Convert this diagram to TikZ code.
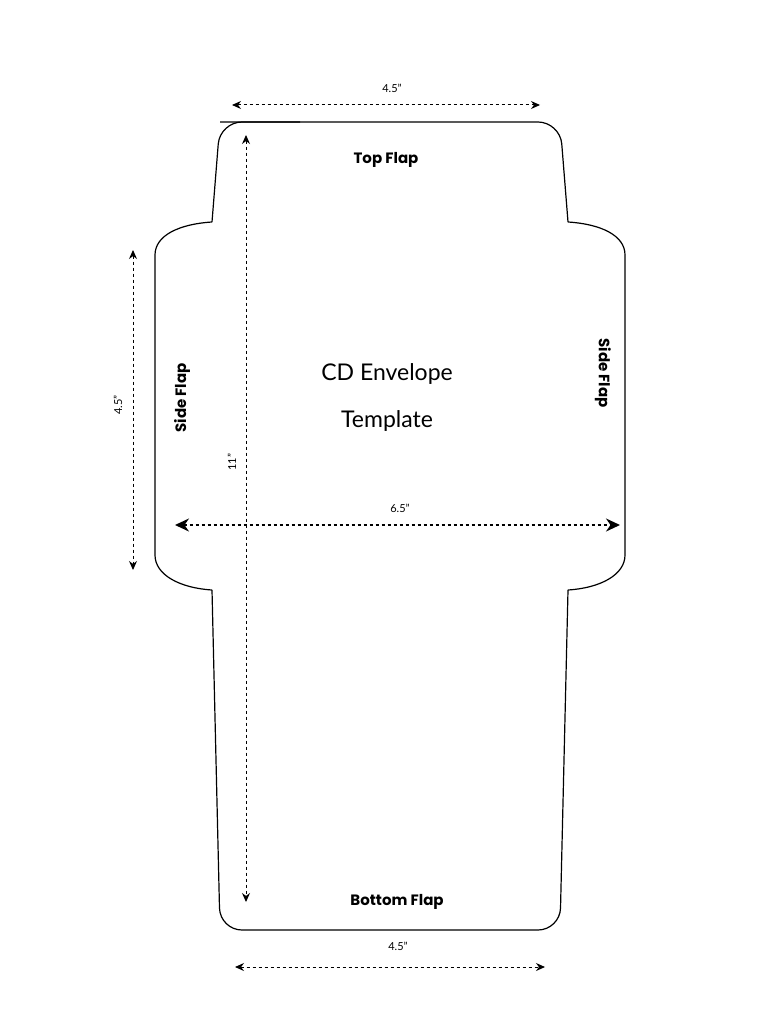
\documentclass[tikz,border=0pt]{standalone}
\usepackage{fontspec}
\setmainfont{Lato}
\newfontfamily\flapfont{Poppins}
\usetikzlibrary{arrows.meta}
\begin{document}
\begin{tikzpicture}[x=1pt,y=-1pt,
  dim/.style={dashed,line width=1pt,{Stealth[length=9pt,width=8pt]}-{Stealth[length=9pt,width=8pt]}},
  dimlab/.style={font=\fontsize{11}{13}\selectfont},
  flap/.style={font=\flapfont\bfseries\fontsize{15}{17}\selectfont}]
\useasboundingbox (0,0) rectangle (768,1024);
\draw[line width=1.2pt,rounded corners=22pt]
  (220,122) -- (560,122) -- (568,222);
\draw[line width=1.2pt]
  (568,222) .. controls (600,224) and (625,235) .. (625,255) -- (625,555)
  .. controls (625,575) and (600,588) .. (568,590);
\draw[line width=1.2pt,rounded corners=22pt]
  (568,590) -- (560,930) -- (220,930) -- (212,590);
\draw[line width=1.2pt]
  (212,590) .. controls (180,588) and (155,575) .. (155,555) -- (155,255)
  .. controls (155,235) and (180,224) .. (212,222);
\draw[line width=1.2pt,rounded corners=22pt]
  (212,222) -- (220,122) -- (300,122);
\coordinate (t1) at (232,105); \coordinate (t2) at (540,105);
\coordinate (v1) at (246,135); \coordinate (v2) at (246,902);
\coordinate (l1) at (133,250); \coordinate (l2) at (133,570);
\coordinate (m1) at (175,525); \coordinate (m2) at (620,525);
\coordinate (b1) at (235,967); \coordinate (b2) at (545,967);
\draw[dim] (t1) -- (t2);
\draw[dim] (v1) -- (v2);
\draw[dim] (l1) -- (l2);
\draw[dim,line width=2pt,{Stealth[length=14pt,width=13pt]}-{Stealth[length=14pt,width=13pt]}] (m1) -- (m2);
\draw[dim] (b1) -- (b2);
\node[dimlab] (tl) at (392,88) {4.5"};
\node[dimlab,rotate=90] (vl) at (232,462) {11"};
\node[dimlab,rotate=90] (ll) at (118,405) {4.5"};
\node[dimlab] (ml) at (400,508) {6.5"};
\node[dimlab] (bl) at (398,946) {4.5"};
\node[flap] (top) at (386,160) {Top Flap};
\node[flap] (bot) at (397,902) {Bottom Flap};
\node[flap,rotate=90] (sl) at (182,398) {Side Flap};
\node[flap,rotate=-90] (sr) at (603,373) {Side Flap};
\node[align=center,font=\fontsize{23}{47}\selectfont] (title) at (387,397) {CD Envelope\\Template};
\end{tikzpicture}
\end{document}
